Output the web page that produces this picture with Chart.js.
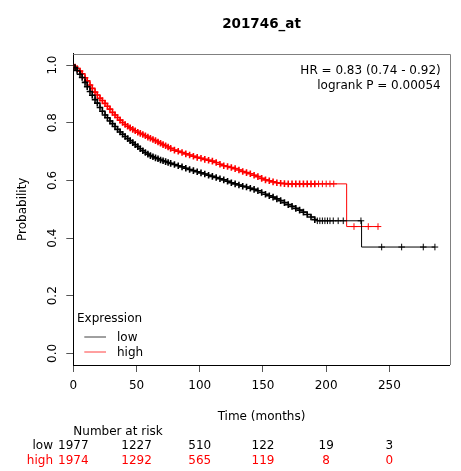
<!DOCTYPE html>
<html lang="en">
<head>
  <meta charset="UTF-8" />
  <title>201746_at</title>
  <script src="https://cdn.jsdelivr.net/npm/chart.js"></script>
  <style>
    body { margin: 0; background: #fff; }
    #km { display: block; }
  </style>
</head>
<body>
  <canvas id="km" width="461" height="471"></canvas>

  <script>
    // ==== DATA ====
    // low expression group: step curve knots, months / survival probability
    const lowTime = [0, 1.4, 3, 5.3, 7, 9.3, 11, 13.2, 15, 17.2,
      19, 21.1, 23, 25.1, 27, 29, 31, 33, 35, 37,
      39, 41, 43, 45, 47, 49, 51, 53, 55, 57,
      59, 61, 63, 65, 67, 69, 71, 73, 75, 77,
      80, 83, 86, 89, 92, 95, 98, 101, 104, 107,
      110, 113, 116, 119, 122, 125, 128, 131, 134, 137,
      140, 143, 146, 149, 152, 155, 158, 161, 164, 167,
      170, 173, 176, 179, 182, 185, 188, 191,
      193, 195, 197, 199, 201, 203, 205.6, 209.5, 213.5, 227.5,
      228, 243.9, 259.7, 276.8, 286];
    const lowSurv = [1.0, 0.991, 0.981, 0.968, 0.957, 0.940, 0.925, 0.908, 0.895, 0.880,
      0.868, 0.853, 0.840, 0.827, 0.817, 0.806, 0.797, 0.787, 0.777, 0.768,
      0.760, 0.752, 0.745, 0.738, 0.731, 0.724, 0.717, 0.710, 0.703, 0.697,
      0.691, 0.686, 0.682, 0.678, 0.675, 0.671, 0.668, 0.665, 0.662, 0.659,
      0.655, 0.651, 0.647, 0.642, 0.638, 0.634, 0.630, 0.626, 0.622, 0.618,
      0.614, 0.610, 0.606, 0.602, 0.597, 0.592, 0.588, 0.584, 0.580, 0.577,
      0.573, 0.569, 0.564, 0.558, 0.552, 0.547, 0.542, 0.536, 0.530, 0.523,
      0.516, 0.510, 0.503, 0.497, 0.490, 0.482, 0.473, 0.464,
      0.460, 0.460, 0.460, 0.460, 0.460, 0.460, 0.460, 0.460, 0.460, 0.460,
      0.369, 0.369, 0.369, 0.369, 0.369];

    // high expression group
    const highTime = [0, 1.4, 3, 5.3, 7, 9.3, 11, 13.2, 15, 17.2,
      19, 21.1, 23, 25.1, 27, 29, 31, 33, 35, 37,
      39, 41, 43, 45, 47, 49, 51, 53, 55, 57,
      59, 61, 63, 65, 67, 69, 71, 73, 75, 77,
      80, 83, 86, 89, 92, 95, 98, 101, 104, 107,
      110, 113, 116, 119, 122, 125, 128, 131, 134, 137,
      140, 143, 146, 149, 152, 155, 158, 161, 164, 167,
      170, 173, 176, 179, 182, 185, 188, 191, 194, 197, 200, 203, 206,
      216.2, 222, 233.3, 241];
    const highSurv = [1.0, 0.993, 0.988, 0.979, 0.970, 0.956, 0.945, 0.931, 0.919, 0.906,
      0.896, 0.885, 0.877, 0.867, 0.857, 0.847, 0.836, 0.827, 0.818, 0.809,
      0.801, 0.794, 0.788, 0.782, 0.777, 0.772, 0.767, 0.763, 0.759, 0.755,
      0.750, 0.746, 0.742, 0.738, 0.733, 0.729, 0.724, 0.720, 0.716, 0.711,
      0.705, 0.701, 0.697, 0.692, 0.688, 0.684, 0.680, 0.677, 0.673, 0.670,
      0.667, 0.662, 0.656, 0.651, 0.648, 0.645, 0.641, 0.636, 0.631, 0.627,
      0.623, 0.618, 0.613, 0.607, 0.602, 0.599, 0.595, 0.592, 0.590, 0.589,
      0.588, 0.588, 0.588, 0.588, 0.588, 0.588, 0.588, 0.588, 0.588, 0.588, 0.588, 0.588, 0.588,
      0.440, 0.440, 0.440, 0.440];

    // knots that are events only (no censor cross)
    const lowNoMark = [0, 228];
    const highNoMark = [0, 216.2];

    const xTicks = [0, 50, 100, 150, 200, 250];
    const yTicks = [0, 0.2, 0.4, 0.6, 0.8, 1.0];

    const riskTimes = [0, 50, 100, 150, 200, 250];
    const lowAtRisk = [1977, 1227, 510, 122, 19, 3];
    const highAtRisk = [1974, 1292, 565, 119, 8, 0];

    const groupNames = ['low', 'high'];
    const groupColors = ['#000000', '#ff0000'];

    const FONT = 'DejaVu Sans';

    // ==== DATASET HELPER ====
    function kmSet(label, times, surv, noMark, color) {
      return {
        label: label,
        data: times.map((t, i) => ({ x: t, y: surv[i] })),
        stepped: true,
        borderColor: color,
        borderWidth: 1,
        fill: false,
        pointStyle: 'cross',
        pointRadius: (c) => (c.raw && noMark.includes(c.raw.x)) ? 0 : 3.3,
        pointHoverRadius: 0,
        pointBorderColor: color,
        pointBackgroundColor: color,
        // dense censoring in R shows as a solid band
        pointBorderWidth: (c) => (c.raw && c.raw.x < 192) ? 1.6 : 1
      };
    }

    // ==== TEXT, BOX, LEGEND, RISK TABLE ====
    const kmDecor = {
      id: 'kmDecor',
      afterDraw(chart) {
        const { ctx, chartArea: a, scales } = chart;
        const x = scales.x, y = scales.y;
        ctx.save();

        // top and right of the box
        const r = Math.round(a.right) + 0.5;
        const t = Math.round(a.top) + 0.5;
        ctx.strokeStyle = '#808080';
        ctx.lineWidth = 1;
        ctx.beginPath();
        ctx.moveTo(a.left, t);
        ctx.lineTo(r, t);
        ctx.lineTo(r, a.bottom);
        ctx.stroke();

        ctx.fillStyle = '#000';
        ctx.textBaseline = 'alphabetic';

        // title
        ctx.font = 'bold 13.5px "' + FONT + '"';
        ctx.textAlign = 'center';
        ctx.fillText('201746_at', (a.left + a.right) / 2, 28);

        ctx.font = '12px "' + FONT + '"';

        // y tick labels, rotated like R
        yTicks.forEach((v) => {
          ctx.save();
          ctx.translate(56, y.getPixelForValue(v));
          ctx.rotate(-Math.PI / 2);
          ctx.textAlign = 'center';
          ctx.fillText(v.toFixed(1), 0, 0);
          ctx.restore();
        });

        // axis titles
        ctx.save();
        ctx.translate(26, (a.top + a.bottom) / 2);
        ctx.rotate(-Math.PI / 2);
        ctx.textAlign = 'center';
        ctx.fillText('Probability', 0, 0);
        ctx.restore();

        ctx.textAlign = 'center';
        ctx.fillText('Time (months)', (a.left + a.right) / 2, 419.5);

        // HR and logrank
        ctx.textAlign = 'right';
        ctx.fillText('HR = 0.83 (0.74 - 0.92)', 440.7, 74);
        ctx.fillText('logrank P = 0.00054', 440.7, 88.5);

        // legend
        ctx.textAlign = 'left';
        ctx.fillText('Expression', 77, 322);
        groupNames.forEach((name, i) => {
          const ly = 337 + i * 15;
          ctx.strokeStyle = groupColors[i];
          ctx.globalAlpha = 0.75;
          ctx.beginPath();
          ctx.moveTo(84.3, ly);
          ctx.lineTo(106, ly);
          ctx.stroke();
          ctx.globalAlpha = 1;
          ctx.fillStyle = '#000';
          ctx.fillText(name, 117, ly + 4.3);
        });

        // number at risk
        ctx.fillStyle = '#000';
        ctx.textAlign = 'left';
        ctx.fillText('Number at risk', x.getPixelForValue(0), 435);
        [lowAtRisk, highAtRisk].forEach((row, i) => {
          const by = 449 + i * 14.5;
          ctx.fillStyle = groupColors[i];
          ctx.textAlign = 'right';
          ctx.fillText(groupNames[i], 53, by);
          ctx.textAlign = 'center';
          row.forEach((n, j) => {
            ctx.fillText(String(n), x.getPixelForValue(riskTimes[j]), by);
          });
        });

        ctx.restore();
      }
    };

    // ==== CHART ====
    const chartCtx = document.getElementById('km').getContext('2d');
    new Chart(chartCtx, {
      type: 'line',
      data: {
        datasets: [
          kmSet('low', lowTime, lowSurv, lowNoMark, groupColors[0]),
          kmSet('high', highTime, highSurv, highNoMark, groupColors[1])
        ]
      },
      options: {
        responsive: false,
        animation: false,
        events: [],
        layout: { padding: { top: 53.5, right: 11.3, left: 0, bottom: 0 } },
        plugins: {
          legend: { display: false },
          tooltip: { enabled: false },
          title: { display: false }
        },
        scales: {
          x: {
            type: 'linear',
            min: 0,
            max: 297.7,
            afterBuildTicks: (s) => { s.ticks = xTicks.map((v) => ({ value: v })); },
            afterFit: (s) => { s.height = 106; },
            grid: { drawOnChartArea: false, drawTicks: true, tickLength: 7, color: '#555' },
            border: { display: true, color: '#000', width: 1 },
            ticks: {
              color: '#000',
              padding: 7,
              maxRotation: 0,
              autoSkip: false,
              font: { family: FONT, size: 12 }
            }
          },
          y: {
            type: 'linear',
            min: -0.04,
            max: 1.04,
            afterBuildTicks: (s) => { s.ticks = yTicks.map((v) => ({ value: v })); },
            afterFit: (s) => { s.width = 73.3; },
            grid: { drawOnChartArea: false, drawTicks: true, tickLength: 7, color: '#555' },
            border: { display: true, color: '#000', width: 1 },
            ticks: { display: false }
          }
        }
      },
      plugins: [kmDecor]
    });
  </script>
</body>
</html>
